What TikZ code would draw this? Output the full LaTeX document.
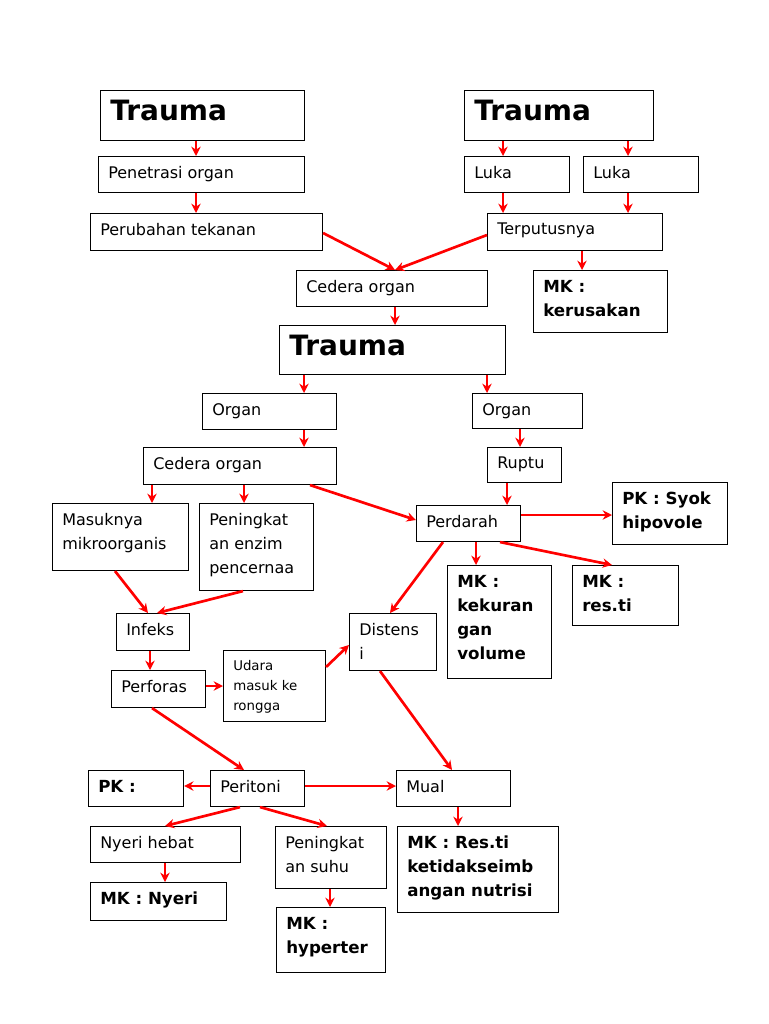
\documentclass[tikz,border=0pt]{standalone}
\usepackage{fontspec}
\setmainfont{DejaVu Sans}
\usetikzlibrary{arrows.meta,calc}
\begin{document}
\begin{tikzpicture}[x=0.75pt,y=-0.75pt,
  box/.style={draw=black,line width=0.8pt,fill=white,inner sep=0pt,anchor=north west},
  txt/.style={anchor=north west,inner sep=0pt,align=left,font=\fontsize{12}{18}\selectfont},
  big/.style={txt,font=\fontsize{21}{24}\selectfont\bfseries},
  bld/.style={txt,font=\fontsize{12.5}{18}\selectfont\bfseries},
  sml/.style={txt,font=\fontsize{10}{15}\selectfont},
  arr/.style={draw=red,line width=2pt,-{Stealth[length=7pt,width=7pt]}}]
\useasboundingbox (0,0) rectangle (768,1024);
\newcommand\bx[7]{\node[box,minimum width={(#4-#2)*0.75pt},minimum height={(#5-#3)*0.75pt}] (#1) at (#2,#3) {};
  \node[#6] at ($(#1.north west)+(10,10)$) {#7};}
\bx{t1}{100}{90}{304}{140}{big}{Trauma}
\bx{t2}{464}{90}{653}{140}{big}{Trauma}
\bx{pen}{98}{156}{304}{192}{txt}{Penetrasi organ}
\bx{lk1}{464}{156}{569}{192}{txt}{Luka}
\bx{lk2}{583}{156}{698}{192}{txt}{Luka}
\bx{per}{90}{213}{322}{250}{txt}{Perubahan tekanan}
\bx{ter}{487}{213}{662}{250}{txt}{Terputusnya}
\bx{ced1}{296}{270}{487}{306}{txt}{Cedera organ}
\bx{mkk}{533}{270}{667}{332}{bld}{MK :\\kerusakan}
\bx{t3}{279}{325}{505}{374}{big}{Trauma}
\bx{org1}{202}{393}{336}{429}{txt}{Organ}
\bx{org2}{472}{393}{582}{428}{txt}{Organ}
\bx{ced2}{143}{447}{336}{484}{txt}{Cedera organ}
\bx{rup}{487}{447}{561}{482}{txt}{Ruptu}
\bx{pks}{612}{482}{727}{544}{bld}{PK : Syok\\hipovole}
\bx{mas}{52}{503}{188}{570}{txt}{Masuknya\\mikroorganis}
\bx{pe1}{199}{503}{313}{590}{txt}{Peningkat\\an enzim\\pencernaa}
\bx{prd}{416}{505}{520}{541}{txt}{Perdarah}
\bx{mkv}{447}{565}{551}{678}{bld}{MK :\\kekuran\\gan\\volume}
\bx{mkr}{572}{565}{678}{625}{bld}{MK :\\res.ti}
\bx{inf}{116}{613}{189}{650}{txt}{Infeks}
\bx{dis}{349}{613}{436}{670}{txt}{Distens\\i}
\bx{uda}{223}{650}{325}{721}{sml}{Udara\\masuk ke\\rongga}
\bx{prf}{111}{670}{205}{707}{txt}{Perforas}
\bx{pk}{88}{770}{183}{806}{bld}{PK :}
\bx{pri}{210}{770}{304}{806}{txt}{Peritoni}
\bx{mua}{396}{770}{510}{806}{txt}{Mual}
\bx{nye}{90}{826}{240}{862}{txt}{Nyeri hebat}
\bx{pe2}{275}{826}{386}{888}{txt}{Peningkat\\an suhu}
\bx{mkn}{397}{826}{558}{912}{bld}{MK : Res.ti\\ketidakseimb\\angan nutrisi}
\bx{mky}{90}{882}{226}{920}{bld}{MK : Nyeri}
\bx{mkh}{276}{907}{385}{972}{bld}{MK :\\hyperter}
\draw[arr] (t1.south -| 196,0) -- (pen.north -| 196,0);
\draw[arr] (pen.south -| 196,0) -- (per.north -| 196,0);
\draw[arr] (t2.south -| 503,0) -- (lk1.north -| 503,0);
\draw[arr] (t2.south -| 628,0) -- (lk2.north -| 628,0);
\draw[arr] (lk1.south -| 503,0) -- (ter.north -| 503,0);
\draw[arr] (lk2.south -| 628,0) -- (ter.north -| 628,0);
\draw[arr] (per.east |- 0,233) -- (ced1.north -| 395,0);
\draw[arr] (ter.west |- 0,235) -- (ced1.north -| 395,0);
\draw[arr] (ter.south -| 582,0) -- (mkk.north -| 582,0);
\draw[arr] (ced1.south -| 395,0) -- (t3.north -| 395,0);
\draw[arr] (t3.south -| 304,0) -- (org1.north -| 304,0);
\draw[arr] (t3.south -| 487,0) -- (org2.north -| 487,0);
\draw[arr] (org1.south -| 304,0) -- (ced2.north -| 304,0);
\draw[arr] (org2.south -| 520,0) -- (rup.north -| 520,0);
\draw[arr] (rup.south -| 507,0) -- (prd.north -| 507,0);
\draw[arr] (ced2.south -| 152,0) -- (mas.north -| 152,0);
\draw[arr] (ced2.south -| 244,0) -- (pe1.north -| 244,0);
\draw[arr] (ced2.south -| 310,0) -- (prd.west |- 0,520);
\draw[arr] (prd.east |- 0,515) -- (pks.west |- 0,515);
\draw[arr] (prd.south -| 476,0) -- (mkv.north -| 476,0);
\draw[arr] (prd.south -| 500,0) -- (mkr.north -| 612,0);
\draw[arr] (prd.south -| 443,0) -- (dis.north -| 390,0);
\draw[arr] (mas.south -| 115,0) -- (inf.north -| 148,0);
\draw[arr] (pe1.south -| 243,0) -- (inf.north -| 157,0);
\draw[arr] (inf.south -| 150,0) -- (prf.north -| 150,0);
\draw[arr] (prf.east |- 0,686) -- (uda.west |- 0,686);
\draw[arr] (uda.east |- 0,667) -- (dis.west |- 0,645);
\draw[arr] (prf.south -| 152,0) -- (pri.north -| 244,0);
\draw[arr] (dis.south -| 380,0) -- (mua.north -| 452,0);
\draw[arr] (pri.west |- 0,786) -- (pk.east |- 0,786);
\draw[arr] (pri.east |- 0,786) -- (mua.west |- 0,786);
\draw[arr] (pri.south -| 240,0) -- (nye.north -| 165,0);
\draw[arr] (pri.south -| 260,0) -- (pe2.north -| 327,0);
\draw[arr] (nye.south -| 165,0) -- (mky.north -| 165,0);
\draw[arr] (pe2.south -| 330,0) -- (mkh.north -| 330,0);
\draw[arr] (mua.south -| 458,0) -- (mkn.north -| 458,0);
\end{tikzpicture}
\end{document}
